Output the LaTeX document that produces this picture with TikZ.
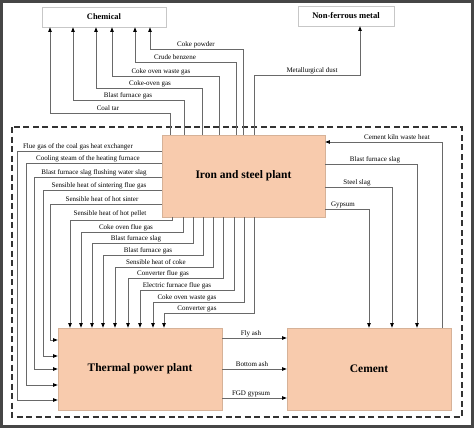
\documentclass[tikz,border=0pt]{standalone}
\usepackage{fontspec}
\setmainfont{Liberation Serif}
\usetikzlibrary{arrows.meta}
\definecolor{peach}{RGB}{248,203,173}
\definecolor{peachedge}{RGB}{214,178,152}
\definecolor{linegray}{RGB}{105,105,105}
\definecolor{framegray}{RGB}{70,70,70}
\tikzset{
  conn/.style={draw=linegray, line width=0.8pt},
  arr/.style={conn, -{Triangle[length=4.5pt,width=3.4pt,color=black]}},
  lbl/.style={anchor=base, yshift=2.6pt, inner sep=0pt, font=\fontsize{7}{8}\selectfont},
  plant/.style={draw=peachedge, line width=0.6pt, fill=peach, inner sep=0pt, font=\fontsize{11.5}{13}\selectfont\bfseries},
  dest/.style={draw=black!22, line width=0.6pt, fill=white, inner sep=0pt},
  sysbox/.style={draw=black!80, line width=1.2pt, dash pattern=on 6pt off 3.5pt},
}
\begin{document}
\begin{tikzpicture}[x=1pt,y=-1pt]
\useasboundingbox (0,0) rectangle (474,428);
\fill[white] (0,0) rectangle (474,428);
\draw[framegray, line width=3pt] (1.5,1.5) rectangle (472.5,426.5);
\draw[sysbox] (12,127) rectangle (462,417);

\node[dest, minimum width=124pt, minimum height=20pt, font=\fontsize{8.4}{10}\selectfont\bfseries] (chem) at (104,17) {Chemical};
\node[dest, minimum width=96pt, minimum height=20pt, font=\fontsize{8.6}{10}\selectfont\bfseries] (nonf) at (346,16) {Non-ferrous metal};
\node[plant, minimum width=163pt, minimum height=82pt] (iron) at (243.5,176) {Iron and steel plant};
\node[plant, minimum width=164pt, minimum height=82pt] (thermal) at (140,369) {Thermal power plant};
\node[plant, minimum width=164pt, minimum height=82pt] (cement) at (369,369) {Cement};

% iron -> chemical
\draw[arr] (iron.north -| 170,0) |- (50,113) -- (chem.south -| 50,0);
\draw[arr] (iron.north -| 184,0) |- (73,100) -- (chem.south -| 73,0);
\draw[arr] (iron.north -| 202,0) |- (96,88) -- (chem.south -| 96,0);
\draw[arr] (iron.north -| 219,0) |- (112,76) -- (chem.south -| 112,0);
\draw[arr] (iron.north -| 236,0) |- (135,62) -- (chem.south -| 135,0);
\draw[arr] (iron.north -| 243,0) |- (150,49) -- (chem.south -| 150,0);
\node[lbl] (l1) at (108,113) {Coal tar};
\node[lbl] (l2) at (128,100) {Blast furnace gas};
\node[lbl] (l3) at (150,88) {Coke-oven gas};
\node[lbl] (l4) at (161,76) {Coke oven waste gas};
\node[lbl] (l5) at (175,62) {Crude benzene};
\node[lbl] (l6) at (196,49) {Coke powder};

% iron -> non-ferrous
\draw[arr] (iron.north -| 254,0) |- (360,75) -- (nonf.south -| 360,0);
\node[lbl] (l7) at (312,75) {Metallurgical dust};

% iron -> thermal (left side)
\draw[arr] (iron.west |- 0,151) -| (17,400) -- (thermal.west |- 0,400);
\draw[arr] (iron.west |- 0,163) -| (26,385) -- (thermal.west |- 0,385);
\draw[arr] (iron.west |- 0,177) -| (34,369) -- (thermal.west |- 0,369);
\draw[arr] (iron.west |- 0,190) -| (43,356) -- (thermal.west |- 0,356);
\draw[arr] (iron.west |- 0,204) -| (50,340) -- (thermal.west |- 0,340);
\node[lbl] (l8) at (78,151) {Flue gas of the coal gas heat exchanger};
\node[lbl] (l9) at (88,163) {Cooling steam of the heating furnace};
\node[lbl] (l10) at (94,177) {Blast furnace slag flushing water slag};
\node[lbl] (l11) at (99,190) {Sensible heat of sintering flue gas};
\node[lbl] (l12) at (102,204) {Sensible heat of hot sinter};

% iron -> thermal (below)
\draw[arr] (iron.south -| 172,0) |- (70,220) -- (thermal.north -| 70,0);
\draw[arr] (iron.south -| 183,0) |- (81,232) -- (thermal.north -| 81,0);
\draw[arr] (iron.south -| 193,0) |- (92,243.5) -- (thermal.north -| 92,0);
\draw[arr] (iron.south -| 203,0) |- (103,255) -- (thermal.north -| 103,0);
\draw[arr] (iron.south -| 213,0) |- (115,267) -- (thermal.north -| 115,0);
\draw[arr] (iron.south -| 223,0) |- (128,278.5) -- (thermal.north -| 128,0);
\draw[arr] (iron.south -| 234,0) |- (140,290) -- (thermal.north -| 140,0);
\draw[arr] (iron.south -| 244,0) |- (153,302) -- (thermal.north -| 153,0);
\draw[arr] (iron.south -| 254,0) |- (164,313) -- (thermal.north -| 164,0);
\node[lbl] (l13) at (110,218.5) {Sensible heat of hot pellet};
\node[lbl] (l14) at (126,232) {Coke oven flue gas};
\node[lbl] (l15) at (136,243.5) {Blast furnace slag};
\node[lbl] (l16) at (148,255) {Blast furnace gas};
\node[lbl] (l17) at (156,267) {Sensible heat of coke};
\node[lbl] (l18) at (163,278.5) {Converter flue gas};
\node[lbl] (l19) at (177,290) {Electric furnace flue gas};
\node[lbl] (l20) at (187,302) {Coke oven waste gas};
\node[lbl] (l21) at (197,313) {Converter gas};

% iron <-> cement (right side)
\draw[arr] (cement.north -| 442,0) |- (iron.east |- 0,142);
\draw[arr] (iron.east |- 0,164) -| (cement.north -| 417,0);
\draw[arr] (iron.east |- 0,187) -| (cement.north -| 392,0);
\draw[arr] (iron.east |- 0,209) -| (cement.north -| 369,0);
\node[lbl] (l22) at (397,142) {Cement kiln waste heat};
\node[lbl] (l23) at (375,164) {Blast furnace slag};
\node[lbl] (l24) at (357,187) {Steel slag};
\node[lbl] (l25) at (343,209) {Gypsum};

% thermal -> cement
\draw[arr] (thermal.east |- 0,338) -- (cement.west |- 0,338);
\draw[arr] (thermal.east |- 0,369) -- (cement.west |- 0,369);
\draw[arr] (thermal.east |- 0,398) -- (cement.west |- 0,398);
\node[lbl] (l26) at (251,338) {Fly ash};
\node[lbl] (l27) at (252,369) {Bottom ash};
\node[lbl] (l28) at (251,398) {FGD gypsum};
\end{tikzpicture}
\end{document}
